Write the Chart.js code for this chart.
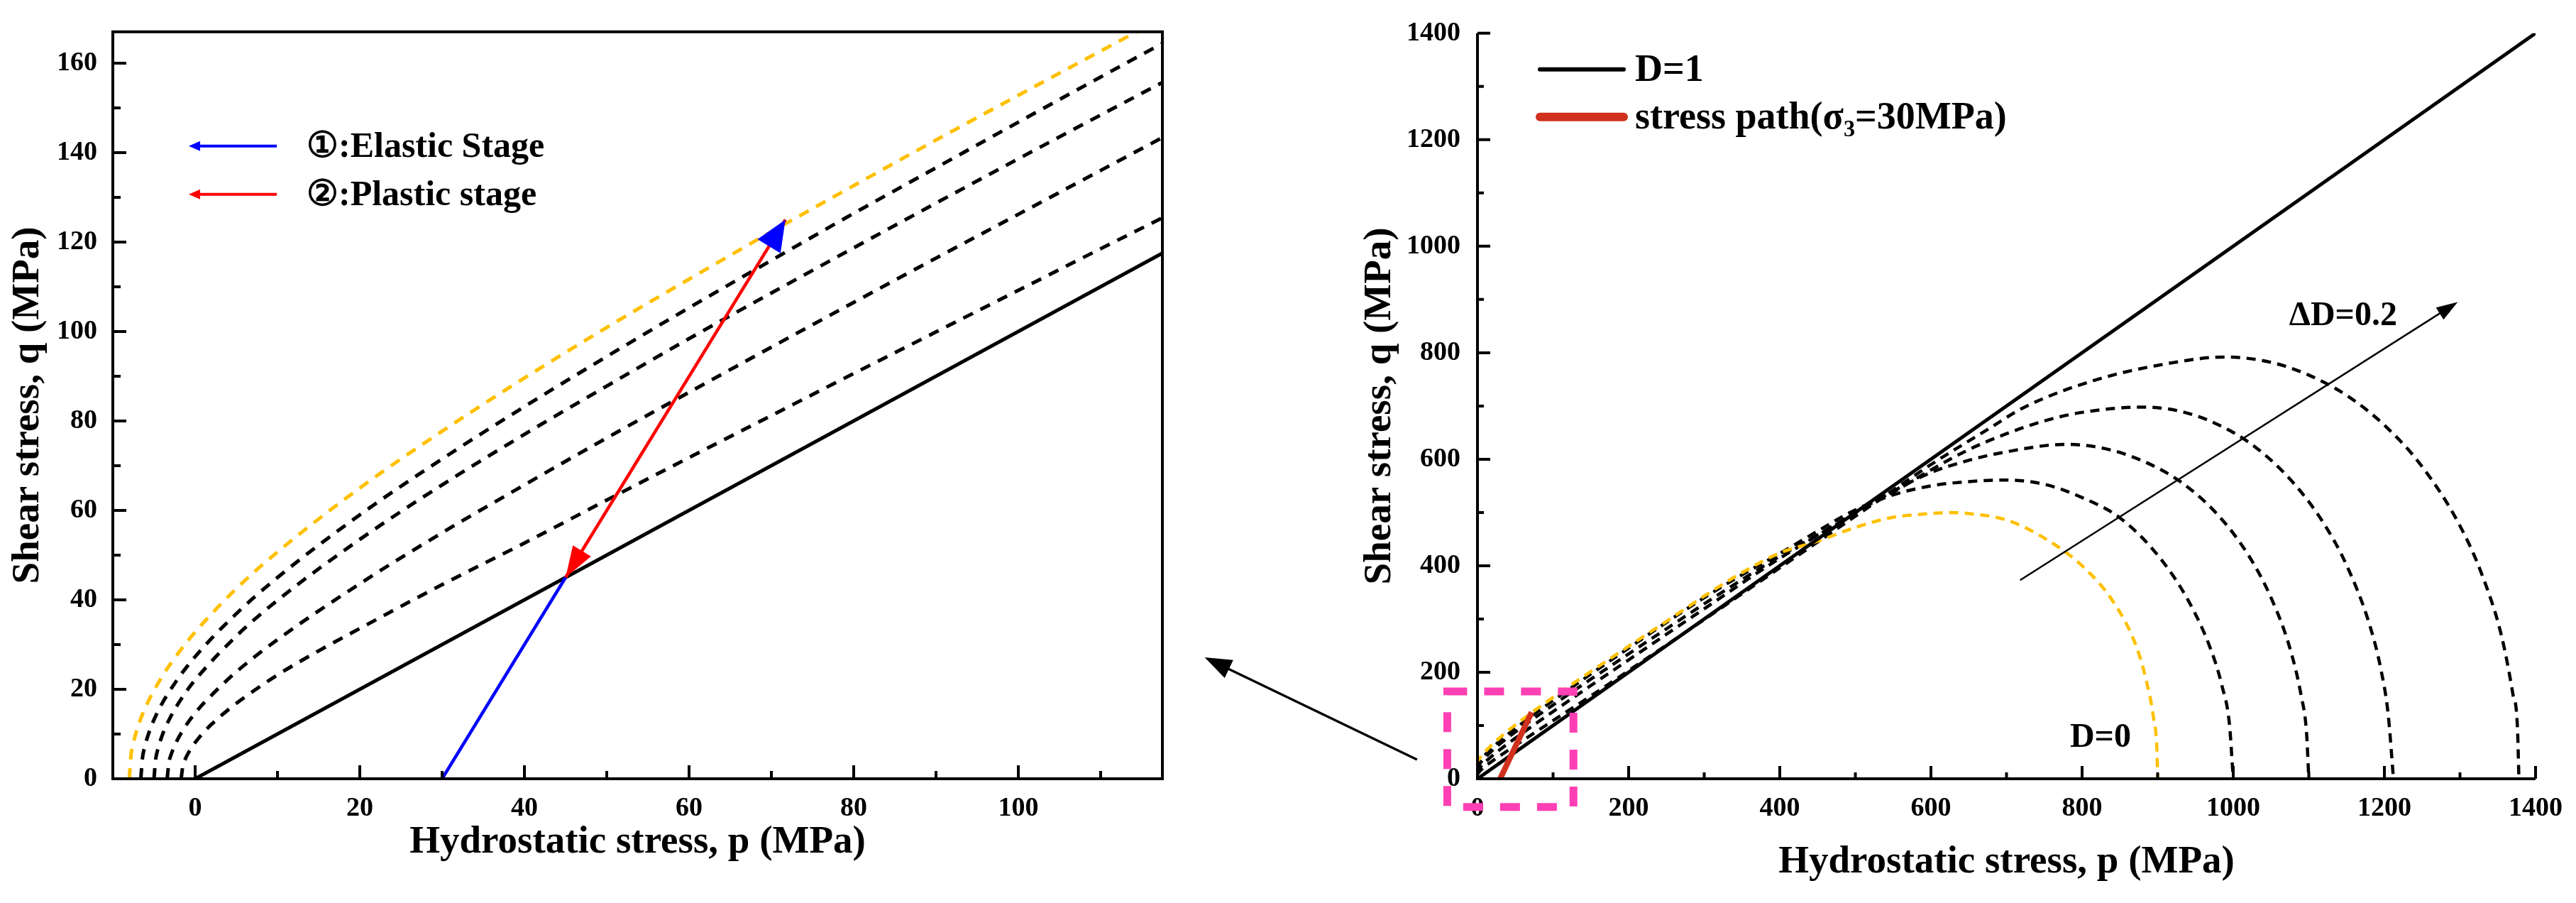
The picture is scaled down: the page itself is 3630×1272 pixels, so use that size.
<!DOCTYPE html>
<html>
<head>
<meta charset="utf-8">
<script src="https://cdn.jsdelivr.net/npm/chart.js@4.4.0/dist/chart.umd.min.js"></script>
<style>
html, body { margin: 0; padding: 0; background: #fff; }
#wrap { position: relative; width: 3630px; height: 1272px; overflow: hidden; background: #fff; }
canvas { position: absolute; top: 0; }
#cLeft { left: 0; }
#cRight { left: 1650px; }
</style>
</head>
<body>
<div id="wrap">
  <canvas id="cLeft" width="1700" height="1272"></canvas>
  <canvas id="cRight" width="1980" height="1272"></canvas>
</div>
<script>
const SERIF = '"Liberation Serif", "Times New Roman", serif'

// yield surfaces: p = hydrostatic stress, q = shear stress (MPa)
const pD0 = [-8, -7.8, -7.5, -7, -6, -4, -2, 0, 5, 10, 20, 30, 40, 50, 60, 70, 80, 90, 100, 110, 120, 150, 200, 250, 300, 350, 400, 450, 500, 550, 600, 624, 650, 700, 750, 800, 840, 870, 884, 895, 899, 900]
const qD0 = [0, 5.1, 8.0, 11.4, 16.1, 22.9, 28.2, 32.8, 42.5, 50.7, 65.0, 77.7, 89.6, 100.9, 111.7, 122.3, 132.6, 142.8, 152.8, 162.7, 172.5, 201.5, 248.8, 295.5, 343, 387, 424, 446, 472, 491, 498, 500, 498, 486, 452, 400, 335, 255, 190, 110, 55, 0]

const pD02 = [-6.6, -6.4, -6.1, -5.6, -4.6, -2.6, 0, 5, 10, 20, 30, 40, 50, 60, 70, 80, 90, 100, 110, 120, 150, 200, 250, 300, 350, 400, 450, 500, 550, 600, 650, 699, 750, 800, 850, 900, 940, 970, 985, 995, 1000]
const qD02 = [0, 4.6, 7.3, 10.4, 14.8, 21.0, 27.3, 36.9, 45.0, 59.0, 71.5, 83.2, 94.4, 105.3, 115.9, 126.4, 136.6, 146.8, 156.9, 166.9, 196.6, 245.4, 293.6, 340, 383, 423, 465, 505, 533, 550, 558, 561, 553, 528, 490, 420, 336, 244, 175, 102, 0]

const pD04 = [-5, -4.8, -4.5, -4, -3, -1, 0, 5, 10, 20, 30, 40, 50, 60, 70, 80, 90, 100, 110, 120, 150, 200, 250, 300, 350, 400, 450, 500, 550, 600, 650, 700, 778, 830, 880, 930, 980, 1020, 1050, 1075, 1090, 1097, 1100]
const qD04 = [0, 4.3, 6.8, 9.7, 13.8, 19.7, 22.1, 31.9, 39.9, 53.5, 65.7, 77.0, 87.8, 98.4, 108.6, 118.7, 128.7, 138.6, 148.4, 158.1, 187.0, 234.6, 281.6, 328.5, 374, 418, 458, 500, 540, 575, 598, 614, 628, 620, 597, 558, 495, 420, 340, 245, 155, 86, 0]

const pD06 = [-3.4, -3.2, -2.9, -2.4, -1.4, 0, 2, 5, 10, 20, 30, 40, 50, 60, 70, 80, 90, 100, 110, 120, 150, 200, 250, 300, 400, 500, 550, 600, 650, 700, 750, 800, 880, 930, 980, 1030, 1080, 1120, 1150, 1180, 1195, 1205, 1212]
const qD06 = [0, 3.5, 5.5, 7.8, 11.1, 14.7, 18.7, 23.9, 31.1, 43.6, 55.0, 65.7, 76.2, 86.4, 96.5, 106.5, 116.4, 126.2, 136.0, 145.8, 175.0, 223.2, 271.3, 319.2, 414, 498, 538, 580, 618, 648, 672, 688, 698, 690, 665, 622, 555, 479, 401, 291, 208, 121, 0]

const pD08 = [-1.7, -1.5, -1.2, -0.7, 0, 1, 2, 4, 6, 10, 15, 20, 30, 40, 50, 60, 70, 80, 90, 100, 110, 120, 150, 200, 300, 400, 500, 600, 674, 724, 823, 923, 987, 1050, 1100, 1150, 1200, 1250, 1300, 1330, 1355, 1370, 1376, 1378]
const qD08 = [0, 2.8, 4.4, 6.2, 8.1, 10.3, 12.2, 15.4, 18.2, 23.2, 28.6, 33.6, 43.4, 52.7, 62.3, 71.8, 81.2, 90.6, 99.9, 109.2, 118.5, 127.7, 155.5, 203, 299, 396, 493, 590, 655, 698, 751, 782, 792, 782, 758, 720, 664, 586, 475, 380, 268, 159, 98, 0]

const pD1 = [0, 1400]
const qD1 = [0, 1400]

// stress path, sigma3 = 30 MPa: elastic part then plastic part
const pPath = [30, 45, 71.7]
const qPath = [0, 45, 125]

const xTicksL = [0, 20, 40, 60, 80, 100]
const xMinorL = [10, 30, 50, 70, 90, 110]
const yTicksL = [0, 20, 40, 60, 80, 100, 120, 140, 160]
const yMinorL = [10, 30, 50, 70, 90, 110, 130, 150]
const ticksR = [0, 200, 400, 600, 800, 1000, 1200, 1400]
const minorR = [100, 300, 500, 700, 900, 1100, 1300]

const legendL = ['\u2460:Elastic Stage', '\u2461:Plastic stage']
const legendR = ['D=1', 'stress path(\u03c3\u2083=30MPa)']

function pts(px, qy) {
  return px.map((p, i) => ({x: p, y: qy[i]}))
}

function curveSets(width, dash) {
  const list = [[pD0, qD0, '#FFC000'], [pD02, qD02, '#000'], [pD04, qD04, '#000'], [pD06, qD06, '#000'], [pD08, qD08, '#000']]
  return list.map(c => ({
    data: pts(c[0], c[1]),
    showLine: true, pointRadius: 0, borderColor: c[2], borderWidth: width,
    borderDash: dash, cubicInterpolationMode: 'monotone', fill: false
  }))
}

function arrowHead(ctx, x0, y0, x1, y1, len, half, color) {
  const a = Math.atan2(y1 - y0, x1 - x0)
  const bx = x1 - len * Math.cos(a), by = y1 - len * Math.sin(a)
  ctx.save()
  ctx.fillStyle = color
  ctx.beginPath()
  ctx.moveTo(x1, y1)
  ctx.lineTo(bx + half * Math.sin(a), by - half * Math.cos(a))
  ctx.lineTo(bx - half * Math.sin(a), by + half * Math.cos(a))
  ctx.closePath()
  ctx.fill()
  ctx.restore()
}

function inwardTicks(chart, xs, ys, len, width) {
  const {ctx, chartArea: a, scales: {x, y}} = chart
  ctx.save()
  ctx.strokeStyle = '#000'
  ctx.lineWidth = width
  ctx.beginPath()
  xs.forEach(v => { const px = x.getPixelForValue(v); ctx.moveTo(px, a.bottom); ctx.lineTo(px, a.bottom - len) })
  ys.forEach(v => { const py = y.getPixelForValue(v); ctx.moveTo(a.left, py); ctx.lineTo(a.left + len, py) })
  ctx.stroke()
  ctx.restore()
}

function axisOpts(min, max, ticks, fitKey, fitVal, title, titlePad, labelPad) {
  return {
    type: 'linear', min: min, max: max,
    afterBuildTicks: s => { s.ticks = ticks.map(v => ({value: v})) },
    afterFit: s => { s[fitKey] = fitVal },
    grid: {display: false, drawTicks: false},
    border: {display: false},
    ticks: {color: '#000', autoSkip: false, maxRotation: 0, padding: labelPad,
            font: {family: SERIF, size: 38, weight: 'bold'}, callback: v => String(v)},
    title: {display: true, text: title, color: '#000', padding: titlePad,
            font: {family: SERIF, size: 55, weight: 'bold'}}
  }
}

// ---------- left chart: close-up near the origin ----------
const leftDecor = {
  id: 'leftDecor',
  afterDraw(chart) {
    const {ctx, chartArea: a, scales: {x, y}} = chart
    inwardTicks(chart, xTicksL, yTicksL, 19, 4)
    inwardTicks(chart, xMinorL, yMinorL, 11, 4)
    ctx.save()
    ctx.strokeStyle = '#000'
    ctx.lineWidth = 4
    ctx.strokeRect(a.left, a.top, a.right - a.left, a.bottom - a.top)
    ctx.restore()

    // arrow heads on the stress path
    const px = pPath.map(v => x.getPixelForValue(v))
    const py = qPath.map(v => y.getPixelForValue(v))
    arrowHead(ctx, px[1], py[1], px[2], py[2], 44, 19, '#0000FF')
    arrowHead(ctx, px[2], py[2], px[1], py[1], 44, 15, '#FF0000')

    // legend
    const cols = ['#0000FF', '#FF0000']
    const rows = [a.top + 161, a.top + 229]
    ctx.save()
    ctx.font = 'bold 50px ' + SERIF
    ctx.textBaseline = 'middle'
    ctx.fillStyle = '#000'
    legendL.forEach((t, i) => {
      ctx.strokeStyle = cols[i]
      ctx.lineWidth = 4
      ctx.beginPath()
      ctx.moveTo(a.left + 112, rows[i]); ctx.lineTo(a.left + 231, rows[i])
      ctx.stroke()
      arrowHead(ctx, a.left + 231, rows[i], a.left + 107, rows[i], 16, 7, cols[i])
      ctx.fillText(t, a.left + 273, rows[i] + 2)
    })
    ctx.restore()
  }
}

new Chart(document.getElementById('cLeft'), {
  type: 'scatter',
  data: {
    datasets: [
      {data: pts(pPath.slice(0, 2), qPath.slice(0, 2)), showLine: true, pointRadius: 0, borderColor: '#0000FF', borderWidth: 4.5},
      {data: pts(pPath.slice(1), qPath.slice(1)), showLine: true, pointRadius: 0, borderColor: '#FF0000', borderWidth: 4.5},
      {data: pts(pD1, qD1), showLine: true, pointRadius: 0, borderColor: '#000', borderWidth: 5},
      ...curveSets(5, [15, 12])
    ]
  },
  options: {
    responsive: false, animation: false, events: [],
    layout: {padding: {left: 0, top: 27, right: 62, bottom: 0}},
    plugins: {legend: {display: false}, tooltip: {enabled: false}},
    scales: {
      x: axisOpts(-10, 117.5, xTicksL, 'height', 175, 'Hydrostatic stress, p (MPa)', {top: 0, bottom: 52}, 19),
      y: axisOpts(0, 167, yTicksL, 'width', 159, 'Shear stress, q (MPa)', {top: 7, bottom: 0}, 22)
    }
  },
  plugins: [leftDecor]
})

// ---------- right chart: whole yield surfaces ----------
const rightDecor = {
  id: 'rightDecor',
  afterDraw(chart) {
    const {ctx, chartArea: a, scales: {x, y}} = chart
    const X = v => x.getPixelForValue(v), Y = v => y.getPixelForValue(v)
    ctx.save()
    ctx.strokeStyle = '#000'
    ctx.lineWidth = 4
    ctx.beginPath()
    ctx.moveTo(a.left, a.top); ctx.lineTo(a.left, a.bottom); ctx.lineTo(a.right, a.bottom)
    ctx.stroke()
    ctx.restore()
    inwardTicks(chart, ticksR, ticksR, 18, 4)
    inwardTicks(chart, minorR, minorR, 9, 4)

    // magnified window
    ctx.save()
    ctx.strokeStyle = '#FF40B4'
    ctx.lineWidth = 11
    ctx.setLineDash([28, 24])
    ctx.strokeRect(X(-40), Y(164), X(127) - X(-40), Y(-53) - Y(164))
    ctx.restore()

    // arrow pointing to the close-up
    ctx.save()
    ctx.strokeStyle = '#000'
    ctx.lineWidth = 3.5
    ctx.beginPath()
    ctx.moveTo(X(-80), Y(36)); ctx.lineTo(X(-345), Y(217))
    ctx.stroke()
    ctx.restore()
    arrowHead(ctx, X(-80), Y(36), X(-361), Y(228), 38, 14, '#000')

    // damage increment arrow
    ctx.save()
    ctx.strokeStyle = '#000'
    ctx.lineWidth = 2.5
    ctx.beginPath()
    ctx.moveTo(X(718), Y(373)); ctx.lineTo(X(1280), Y(880))
    ctx.stroke()
    ctx.restore()
    arrowHead(ctx, X(718), Y(373), X(1297), Y(895), 30, 10, '#000')

    ctx.save()
    ctx.fillStyle = '#000'
    ctx.font = 'bold 48px ' + SERIF
    ctx.textBaseline = 'alphabetic'
    ctx.fillText('\u0394D=0.2', X(1074), Y(852))
    ctx.fillText('D=0', X(784), Y(60))

    // legend
    const rows = [a.top + 51, a.top + 118]
    const cols = ['#000', '#D0301C']
    const widths = [6, 12]
    ctx.font = 'bold 54px ' + SERIF
    ctx.textBaseline = 'middle'
    legendR.forEach((t, i) => {
      ctx.strokeStyle = cols[i]
      ctx.lineWidth = widths[i]
      ctx.lineCap = 'round'
      ctx.beginPath()
      ctx.moveTo(a.left + 88, rows[i]); ctx.lineTo(a.left + 206, rows[i])
      ctx.stroke()
      ctx.fillText(t, a.left + 222, rows[i] + 2)
    })
    ctx.restore()
  }
}

new Chart(document.getElementById('cRight'), {
  type: 'scatter',
  data: {
    datasets: [
      {data: pts([pPath[0], pPath[2]], [qPath[0], qPath[2]]), showLine: true, pointRadius: 0, borderColor: '#D0301C', borderWidth: 8},
      {data: pts(pD1, qD1), showLine: true, pointRadius: 0, borderColor: '#000', borderWidth: 5},
      ...curveSets(4.5, [13, 9])
    ]
  },
  options: {
    responsive: false, animation: false, events: [],
    layout: {padding: {left: 0, top: 39, right: 57, bottom: 0}},
    plugins: {legend: {display: false}, tooltip: {enabled: false}},
    scales: {
      x: axisOpts(0, 1400, ticksR, 'height', 175, 'Hydrostatic stress, p (MPa)', {top: 0, bottom: 24}, 19),
      y: axisOpts(0, 1400, ticksR, 'width', 432, 'Shear stress, q (MPa)', {top: 262, bottom: 0}, 24)
    }
  },
  plugins: [rightDecor]
})
</script>
</body>
</html>
